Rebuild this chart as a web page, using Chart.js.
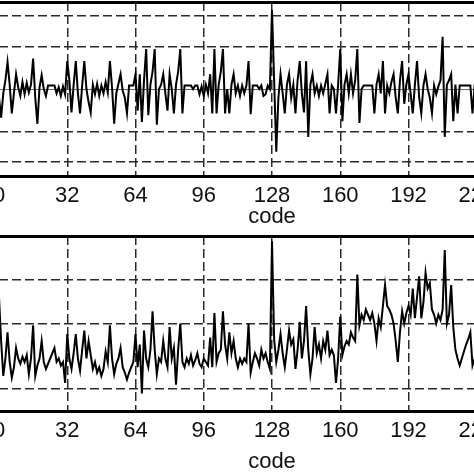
<!DOCTYPE html>
<html>
<head>
<meta charset="utf-8">
<script src="https://cdn.jsdelivr.net/npm/chart.js@4.4.1/dist/chart.umd.min.js"></script>
<style>
  html, body { margin: 0; padding: 0; width: 474px; height: 474px; overflow: hidden; background: #fff; }
  canvas { position: absolute; left: -31px; }
  #top-chart { top: 0; }
  #bottom-chart { top: 232px; }
</style>
</head>
<body>
<canvas id="top-chart" width="606" height="228"></canvas>
<canvas id="bottom-chart" width="606" height="241"></canvas>
<script>
// code index on the x axis (0..255)
const codes = Array.from({ length: 256 }, (_, i) => i);
const codeTicks = [0, 32, 64, 96, 128, 160, 192, 224, 256];

// y gridline levels (axis labels are outside the crop)
const topGridLevels = [-0.84, -0.49, 0, 0.49, 0.84];
const bottomGridLevels = [0.13, 0.5, 0.75];

// upper panel, signed values
const topValues = [
  -0.10, -0.33, -0.05, 0.10, 0.31, 0.05, -0.28, -0.05, 0.17, 0.02, -0.08, 0.08, -0.06, 0.07, -0.04, 0.05,
  0.35, -0.10, -0.40, 0.02, 0.16, 0.00, -0.08, 0.04, 0.04, 0.04, 0.04, -0.05, 0.02, -0.08, 0.03, -0.06,
  0.32, 0.10, -0.27, 0.05, 0.32, -0.05, -0.28, 0.04, 0.32, 0.00, -0.15, -0.27, 0.05, -0.06, 0.06, -0.08,
  0.04, -0.05, 0.08, -0.04, 0.32, 0.02, -0.40, -0.05, 0.06, 0.17, -0.02, -0.10, -0.28, 0.04, 0.04, 0.04,
  0.17, -0.25, 0.17, -0.38, 0.10, 0.46, -0.30, 0.05, 0.20, 0.46, -0.41, 0.00, 0.05, 0.17, -0.05, -0.25,
  0.17, 0.00, -0.28, 0.05, 0.20, 0.46, -0.28, 0.04, 0.04, 0.04, 0.04, 0.00, 0.04, 0.04, -0.06, 0.03,
  -0.08, 0.05, -0.05, 0.17, -0.28, 0.46, -0.28, 0.05, 0.20, 0.46, -0.28, 0.00, -0.28, 0.05, 0.17, -0.05,
  0.04, -0.08, 0.04, -0.05, 0.04, 0.32, -0.29, 0.04, 0.04, 0.04, 0.00, 0.04, -0.08, -0.06, 0.04, 0.00,
  0.91, 0.10, -0.72, -0.10, 0.17, -0.05, -0.28, 0.05, 0.17, -0.10, 0.05, -0.28, 0.10, 0.32, -0.05, -0.27,
  0.32, -0.55, 0.05, 0.17, -0.05, 0.04, -0.08, 0.04, -0.05, 0.06, 0.17, -0.28, 0.04, 0.00, -0.28, 0.05,
  0.46, -0.37, 0.05, 0.17, -0.05, 0.17, -0.05, 0.10, 0.46, -0.39, 0.00, 0.04, 0.04, 0.04, 0.04, 0.04,
  -0.28, 0.05, 0.17, -0.05, 0.32, -0.28, 0.04, -0.05, 0.08, 0.17, -0.10, -0.28, 0.10, 0.32, -0.17, 0.05,
  0.17, -0.05, -0.28, 0.05, 0.32, -0.10, -0.28, 0.04, 0.17, 0.00, -0.10, -0.28, 0.04, -0.06, 0.03, 0.10,
  0.60, -0.55, 0.05, 0.10, 0.17, -0.37, 0.05, -0.28, 0.04, 0.04, 0.04, 0.04, 0.04, 0.04, -0.28, 0.04,
  0.17, -0.10, 0.04, 0.32, -0.28, 0.05, 0.04, -0.06, 0.17, -0.05, 0.04, 0.04, -0.28, 0.05, 0.32, -0.10,
  0.04, 0.04, -0.06, 0.17, -0.28, 0.04, 0.04, 0.04, 0.17, -0.05, 0.04, -0.28, 0.04, 0.17, 0.04, 0.04
];

// lower panel, positive values
const bottomValues = [
  0.65, 0.40, 0.20, 0.30, 0.45, 0.28, 0.19, 0.25, 0.36, 0.30, 0.27, 0.31, 0.28, 0.32, 0.21, 0.30,
  0.49, 0.20, 0.26, 0.30, 0.40, 0.28, 0.24, 0.27, 0.30, 0.33, 0.36, 0.28, 0.30, 0.26, 0.28, 0.16,
  0.44, 0.30, 0.24, 0.33, 0.44, 0.30, 0.23, 0.35, 0.46, 0.30, 0.40, 0.32, 0.24, 0.28, 0.22, 0.25,
  0.20, 0.24, 0.34, 0.28, 0.49, 0.30, 0.21, 0.27, 0.30, 0.36, 0.25, 0.22, 0.18, 0.22, 0.25, 0.28,
  0.44, 0.25, 0.38, 0.10, 0.46, 0.30, 0.25, 0.35, 0.57, 0.35, 0.21, 0.30, 0.28, 0.40, 0.30, 0.25,
  0.48, 0.30, 0.36, 0.15, 0.35, 0.50, 0.28, 0.25, 0.30, 0.27, 0.32, 0.26, 0.29, 0.33, 0.27, 0.25,
  0.30, 0.28, 0.26, 0.42, 0.25, 0.56, 0.28, 0.33, 0.35, 0.57, 0.38, 0.30, 0.45, 0.33, 0.40, 0.30,
  0.25, 0.30, 0.27, 0.30, 0.28, 0.50, 0.22, 0.28, 0.33, 0.30, 0.26, 0.35, 0.30, 0.33, 0.28, 0.24,
  0.97, 0.41, 0.28, 0.35, 0.44, 0.33, 0.25, 0.35, 0.46, 0.38, 0.41, 0.24, 0.35, 0.51, 0.30, 0.40,
  0.60, 0.35, 0.21, 0.30, 0.48, 0.33, 0.38, 0.30, 0.40, 0.35, 0.46, 0.32, 0.35, 0.32, 0.16, 0.30,
  0.54, 0.32, 0.37, 0.40, 0.38, 0.45, 0.42, 0.40, 0.78, 0.49, 0.55, 0.52, 0.58, 0.55, 0.52, 0.56,
  0.50, 0.40, 0.53, 0.48, 0.60, 0.72, 0.60, 0.58, 0.55, 0.50, 0.40, 0.28, 0.45, 0.57, 0.50, 0.56,
  0.60, 0.55, 0.70, 0.53, 0.65, 0.77, 0.53, 0.62, 0.79, 0.70, 0.73, 0.58, 0.55, 0.50, 0.55, 0.52,
  0.58, 0.92, 0.50, 0.55, 0.72, 0.48, 0.35, 0.30, 0.26, 0.30, 0.34, 0.38, 0.41, 0.45, 0.26, 0.30,
  0.35, 0.42, 0.30, 0.38, 0.33, 0.28, 0.36, 0.40, 0.30, 0.34, 0.29, 0.37, 0.33, 0.28, 0.35, 0.31,
  0.27, 0.36, 0.30, 0.33, 0.29, 0.38, 0.32, 0.27, 0.35, 0.30, 0.34, 0.28, 0.36, 0.31, 0.29, 0.33
];

const FONT = { family: "'Liberation Sans', Arial, sans-serif", size: 22, lineHeight: 1 };
const GRID_DASH = [9, 4];

function makePanel(canvasId, values, yMin, yMax, gridLevels, padTop, titleGap) {
  return new Chart(document.getElementById(canvasId), {
    type: "line",
    data: {
      datasets: [{
        data: codes.map((c, i) => ({ x: c, y: values[i] })),
        borderColor: "#000",
        borderWidth: 2,
        pointRadius: 0,
        tension: 0,
        fill: false
      }]
    },
    options: {
      responsive: false,
      animation: false,
      events: [],
      layout: { padding: { left: 30, right: 30, top: padTop, bottom: 0 } },
      plugins: { legend: { display: false }, tooltip: { enabled: false } },
      scales: {
        x: {
          type: "linear",
          min: 0,
          max: 256,
          afterBuildTicks: (axis) => { axis.ticks = codeTicks.map((v) => ({ value: v })); },
          ticks: { font: FONT, color: "#111", padding: 9, maxRotation: 0, autoSkip: false },
          grid: { color: "#2a2a2a", lineWidth: 1.5, drawTicks: false },
          border: { display: true, color: "#000", width: 3, dash: (ctx) => (ctx.type === "tick" ? GRID_DASH : []) },
          title: { display: true, text: "code", font: FONT, color: "#111", padding: { top: titleGap, bottom: 0 } }
        },
        xTop: {
          type: "linear",
          position: "top",
          min: 0,
          max: 256,
          ticks: { display: false },
          grid: { display: false, drawTicks: false },
          border: { display: true, color: "#000", width: 3 }
        },
        y: {
          type: "linear",
          min: yMin,
          max: yMax,
          afterBuildTicks: (axis) => { axis.ticks = gridLevels.map((v) => ({ value: v })); },
          ticks: { display: false },
          grid: {
            drawTicks: false,
            color: (ctx) => (ctx.tick && ctx.tick.value === 0 ? "#666" : "#2a2a2a"),
            lineWidth: (ctx) => (ctx.tick && ctx.tick.value === 0 ? 1 : 1.5)
          },
          border: { display: false, dash: (ctx) => (ctx.tick && ctx.tick.value === 0 ? [] : GRID_DASH) }
        }
      }
    }
  });
}

makePanel("top-chart", topValues, -1, 1, topGridLevels, 2, -10);
makePanel("bottom-chart", bottomValues, 0, 1, bottomGridLevels, 4, 0);
</script>
</body>
</html>
